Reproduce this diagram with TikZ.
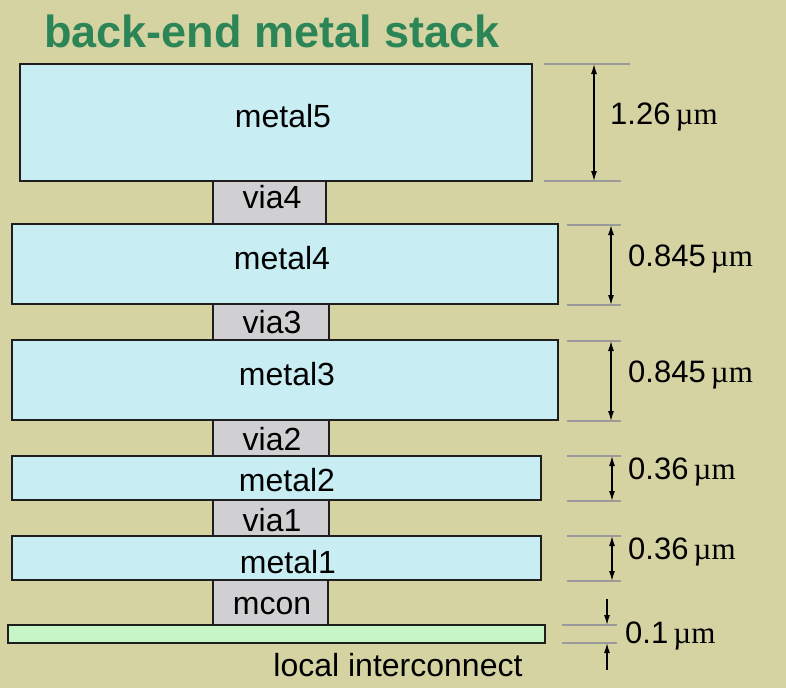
\documentclass[tikz,border=0pt]{standalone}
\usepackage{fontspec}
\setmainfont{Liberation Sans}
\newfontfamily\umfont{Liberation Serif}
\usetikzlibrary{arrows.meta}
\definecolor{cbg}{HTML}{D6D3A3}
\definecolor{ctitle}{HTML}{2B8556}
\definecolor{cmetal}{HTML}{C8EEF3}
\definecolor{cvia}{HTML}{D0D0D2}
\definecolor{cli}{HTML}{C8F5C8}
\definecolor{cedge}{HTML}{1E1E1E}
\definecolor{cbar}{HTML}{9A9A9A}
\newcommand{\um}{\,{\umfont µm}}

\begin{document}
\begin{tikzpicture}[x=1pt, y=-1pt,
    layer/.style={draw=cedge, line width=1.6pt, inner sep=0pt},
    metal/.style={layer, fill=cmetal},
    via/.style={layer, fill=cvia},
    layername/.style={inner sep=0pt, font=\fontsize{32}{36}\selectfont},
    bar/.style={draw=cbar, line width=2.4pt},
    dimarrow/.style={draw=black, line width=1.3pt, {Latex[length=10pt,width=6pt]}-{Latex[length=10pt,width=6pt]}},
    tiparrow/.style={draw=black, line width=1.3pt, -{Latex[length=10pt,width=6pt]}},
    dimlabel/.style={anchor=west, inner sep=0pt, font=\fontsize{31}{36}\selectfont}]
\fill[cbg] (0,0) rectangle (786,688);
\useasboundingbox (0,0) rectangle (786,688);
%% ------------------------------------------------------------------ title
\node[anchor=base west, inner sep=0pt, text=ctitle, font=\fontsize{45}{50}\selectfont\bfseries]
  (title) at (44,47) {back-end metal stack};
%% ------------------------------------------------------------------ the stack
\node[via, minimum width=113pt, minimum height=43pt] (via4) at (269.5,202.5) {};
\node[via, minimum width=116pt, minimum height=36pt] (via3) at (271,322) {};
\node[via, minimum width=116pt, minimum height=36pt] (via2) at (271,438) {};
\node[via, minimum width=116pt, minimum height=36pt] (via1) at (271,518) {};
\node[via, minimum width=115pt, minimum height=45pt] (mcon) at (270.5,602.5) {};
\node[metal, minimum width=512pt, minimum height=117pt] (metal5) at (276,122.5) {};
\node[metal, minimum width=546pt, minimum height=80pt] (metal4) at (285,264) {};
\node[metal, minimum width=546pt, minimum height=80pt] (metal3) at (285,380) {};
\node[metal, minimum width=529pt, minimum height=44pt] (metal2) at (276.5,478) {};
\node[metal, minimum width=529pt, minimum height=44pt] (metal1) at (276.5,558) {};
\node[layer, fill=cli, minimum width=537pt, minimum height=18pt] (li) at (276.5,634) {};
% layer names
\node[layername] (t5) at (283,116) {metal5};
\node[layername] (tv4) at (272,197) {via4};
\node[layername] (t4) at (282,258.5) {metal4};
\node[layername] (tv3) at (272,322) {via3};
\node[layername] (t3) at (287,374.5) {metal3};
\node[layername] (tv2) at (272,439) {via2};
\node[layername] (t2) at (287,480.5) {metal2};
\node[layername] (tv1) at (272,520) {via1};
\node[layername] (t1) at (288,562) {metal1};
\node[layername] (tmc) at (272,606) {mcon};
\node[layername] (tli) at (398,665) {local interconnect};
%% ------------------------------------------------------------------ thicknesses
% metal5
\draw[bar] (544,64) -- (630,64);
\draw[bar] (544,181) -- (621,181);
\coordinate (d5a) at (594,64);
\coordinate (d5b) at (594,181);
\draw[dimarrow] (d5a) -- (d5b);
\node[dimlabel] (l5) at (610,117) {1.26\um};
% metal4
\draw[bar] (567,225) -- (621,225);
\draw[bar] (567,305) -- (621,305);
\coordinate (d4a) at (611,225);
\coordinate (d4b) at (611,305);
\draw[dimarrow] (d4a) -- (d4b);
\node[dimlabel] (l4) at (628,259) {0.845\um};
% metal3
\draw[bar] (567,341) -- (621,341);
\draw[bar] (567,421) -- (621,421);
\coordinate (d3a) at (611,341);
\coordinate (d3b) at (611,421);
\draw[dimarrow] (d3a) -- (d3b);
\node[dimlabel] (l3) at (628,375) {0.845\um};
% metal2
\draw[bar] (567,456) -- (621,456);
\draw[bar] (567,501) -- (621,501);
\coordinate (d2a) at (612,456);
\coordinate (d2b) at (612,501);
\draw[dimarrow] (d2a) -- (d2b);
\node[dimlabel] (l2) at (628,472) {0.36\um};
% metal1
\draw[bar] (567,536) -- (621,536);
\draw[bar] (567,581) -- (621,581);
\coordinate (d1a) at (612,536);
\coordinate (d1b) at (612,581);
\draw[dimarrow] (d1a) -- (d1b);
\node[dimlabel] (l1) at (628,552) {0.36\um};
% local interconnect, arrows from outside
\draw[bar] (562,625) -- (617,625);
\draw[bar] (562,643) -- (617,643);
\coordinate (d0a) at (607,599);
\coordinate (d0b) at (607,625);
\coordinate (d0c) at (607,670);
\coordinate (d0d) at (607,643);
\draw[tiparrow] (d0a) -- (d0b);
\draw[tiparrow] (d0c) -- (d0d);
\node[dimlabel] (l0) at (625,636) {0.1\um};
\end{tikzpicture}
\end{document}
